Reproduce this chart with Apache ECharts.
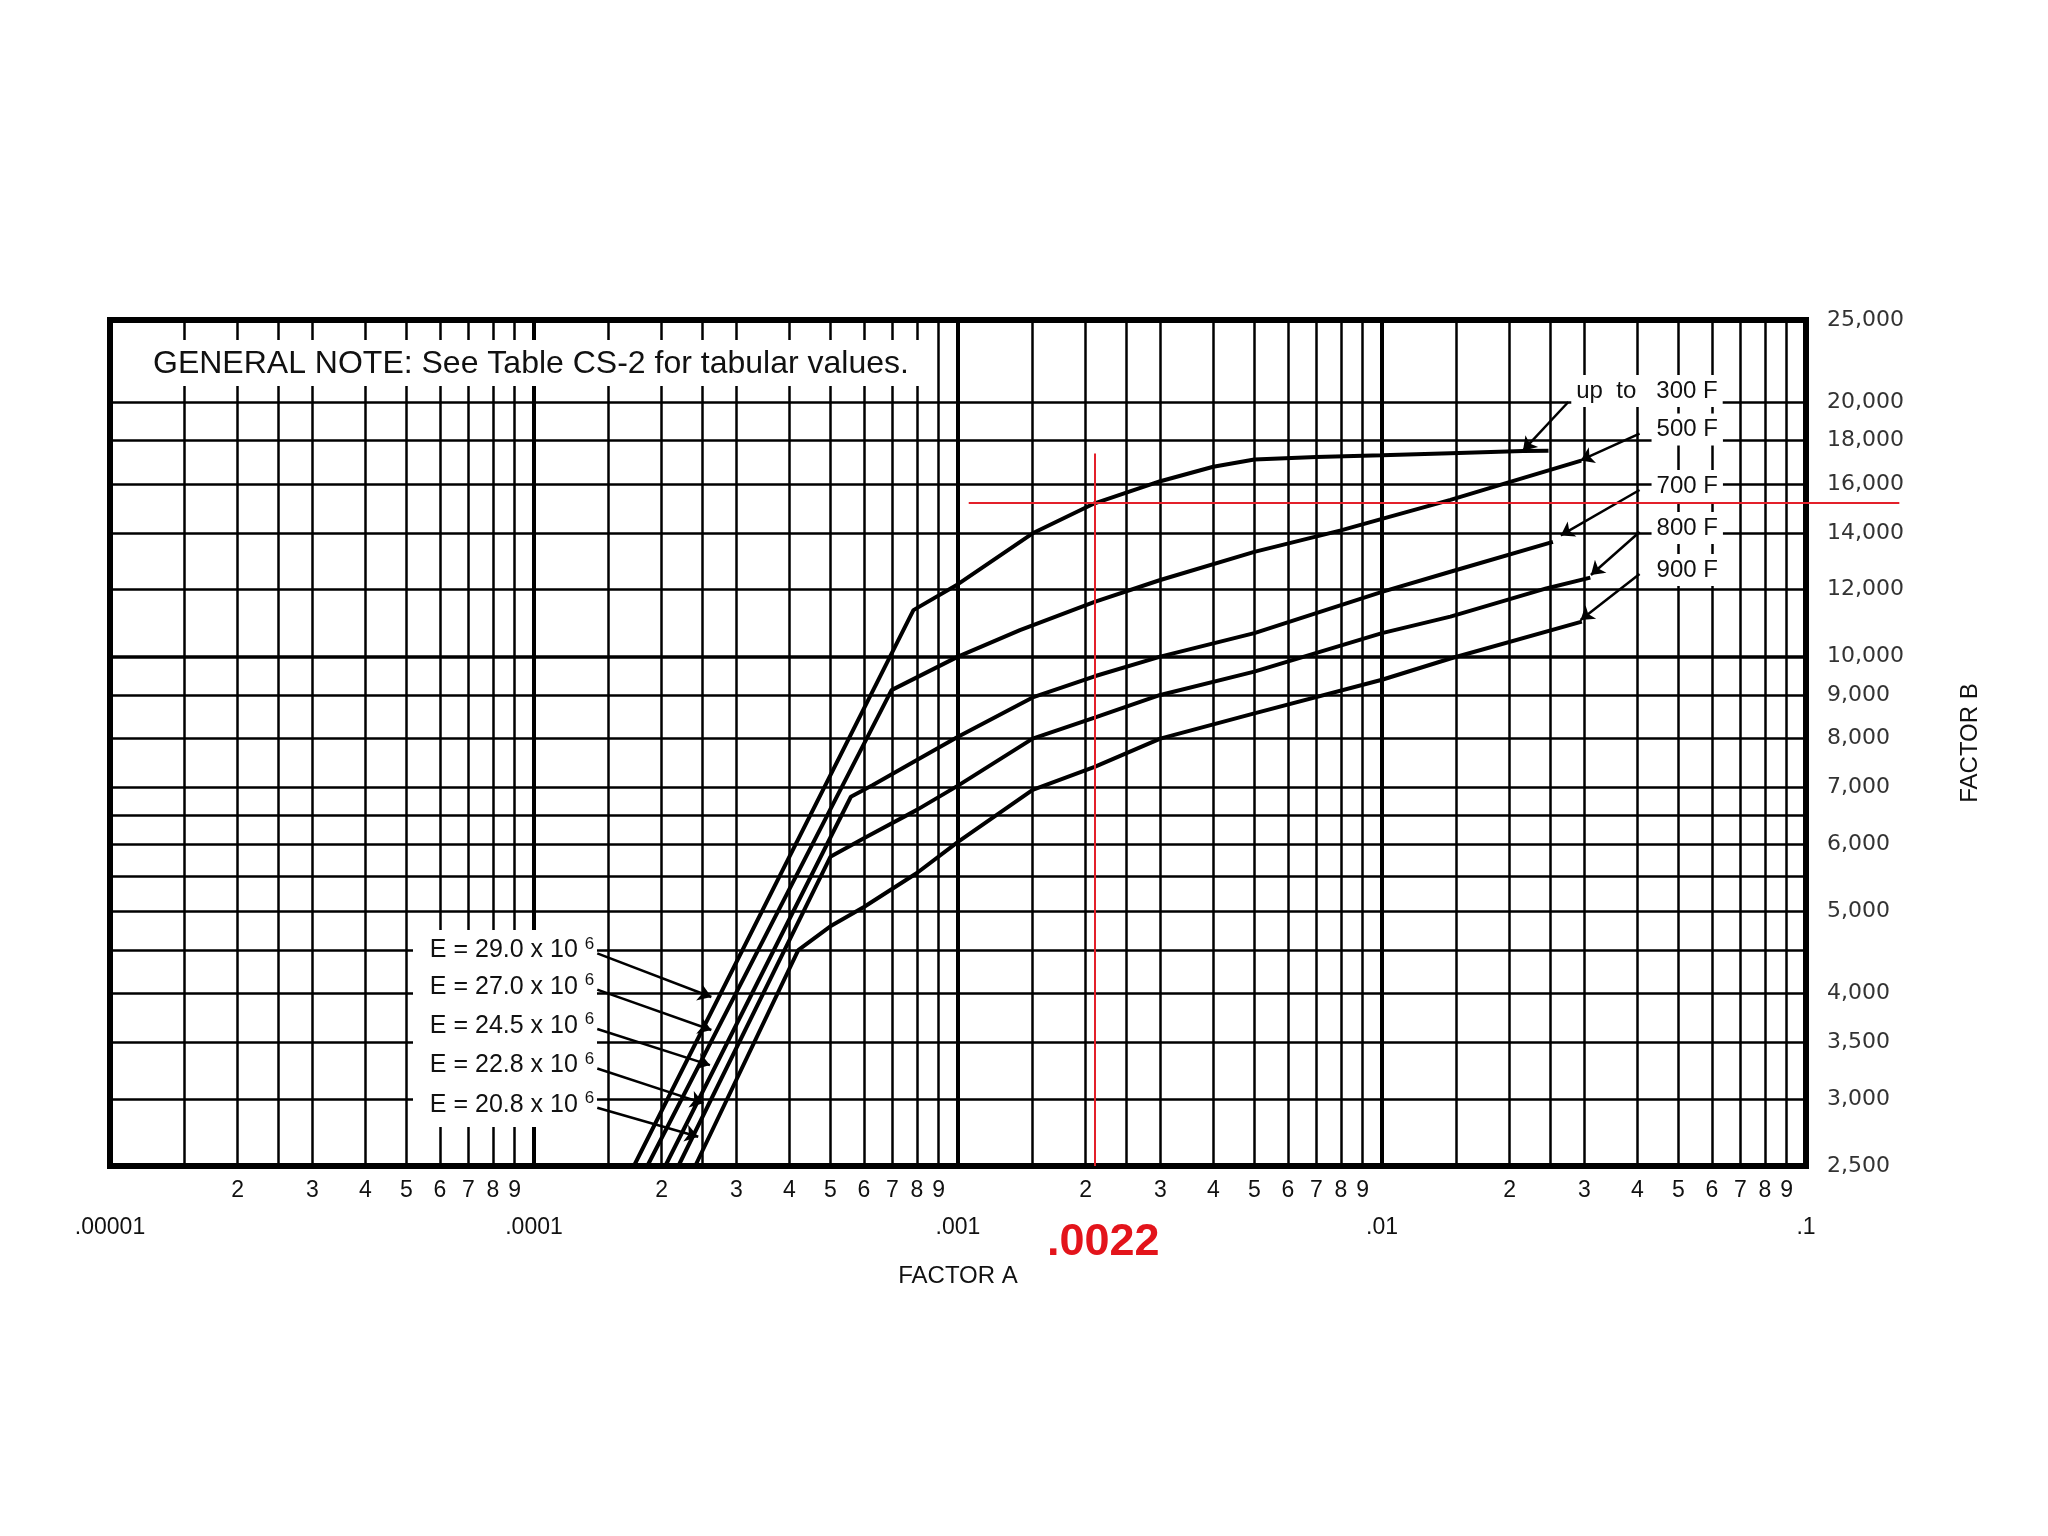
<!DOCTYPE html>
<html>
<head>
<meta charset="utf-8">
<title>Factor A - Factor B</title>
<script src="https://cdn.jsdelivr.net/npm/echarts@6/dist/echarts.min.js"></script>
<style>
  html, body { margin: 0; padding: 0; background: #fff; }
  #main { width: 2048px; height: 1536px; }
</style>
</head>
<body>
<div id="main"></div>
<script>
// axis range
const aMin = 0.00001, aMax = 0.1;
const bMin = 2500, bMax = 25000;

// grid lines and tick labels
const decades = [0.00001, 0.0001, 0.001, 0.01, 0.1];
const decadeLabels = ['.00001', '.0001', '.001', '.01', '.1'];
const gridMantissa = [1.5, 2, 2.5, 3, 4, 5, 6, 7, 8, 9];
const labelMantissa = [2, 3, 4, 5, 6, 7, 8, 9];
const gridB = [3000, 3500, 4000, 4500, 5000, 5500, 6000, 6500, 7000, 8000, 9000, 10000, 12000, 14000, 16000, 18000, 20000];
const labelB = [25000, 20000, 18000, 16000, 14000, 12000, 10000, 9000, 8000, 7000, 6000, 5000, 4000, 3500, 3000, 2500];

// curves, [factor A, factor B]
const temps = ['up  to   300 F', '500 F', '700 F', '800 F', '900 F'];
const moduli = ['29.0', '27.0', '24.5', '22.8', '20.8'];
const curve300 = [[1.72e-4, 2500], [7.85e-4, 11350], [1.0e-3, 12180], [1.5e-3, 13990], [2.1e-3, 15180], [3.0e-3, 16120], [4.0e-3, 16770], [5.0e-3, 17100], [7.0e-3, 17220], [1.0e-2, 17300], [1.45e-2, 17400], [2.15e-2, 17500], [2.47e-2, 17520]];
const curve500 = [[1.85e-4, 2500], [6.97e-4, 9130], [1.0e-3, 10000], [1.4e-3, 10750], [2.1e-3, 11610], [3.0e-3, 12320], [5.0e-3, 13300], [8.0e-3, 14100], [1.0e-2, 14550], [1.45e-2, 15320], [2.08e-2, 16180], [2.95e-2, 17050]];
const curve700 = [[2.04e-4, 2500], [5.59e-4, 6830], [6.3e-4, 7050], [8.0e-4, 7550], [1.0e-3, 8040], [1.5e-3, 8950], [2.1e-3, 9480], [3.0e-3, 10000], [5.0e-3, 10660], [1.0e-2, 11930], [1.45e-2, 12600], [2.53e-2, 13670]];
const curve800 = [[2.19e-4, 2500], [5.0e-4, 5800], [6.0e-4, 6100], [8.0e-4, 6590], [1.0e-3, 7040], [1.5e-3, 8000], [2.1e-3, 8470], [3.0e-3, 9010], [5.0e-3, 9600], [1.0e-2, 10660], [1.45e-2, 11150], [2.44e-2, 12040], [3.1e-2, 12400]];
const curve900 = [[2.40e-4, 2500], [4.2e-4, 4500], [5.0e-4, 4800], [6.0e-4, 5060], [8.0e-4, 5550], [1.0e-3, 6040], [1.5e-3, 6960], [2.1e-3, 7410], [3.0e-3, 8000], [5.0e-3, 8570], [1.0e-2, 9390], [1.45e-2, 9950], [2.96e-2, 11000]];

// label arrows, [start, end]
const tempArrows = [
  [[0.0275, 20000], [0.0215, 17520]],
  [[0.0405, 18350], [0.0294, 17060]],
  [[0.0405, 15740], [0.0264, 13910]],
  [[0.0405, 14040], [0.0311, 12490]],
  [[0.0405, 12520], [0.0294, 11050]]
];
const eArrows = [
  [[1.41e-4, 4460], [2.62e-4, 3960]],
  [[1.41e-4, 4040], [2.62e-4, 3620]],
  [[1.41e-4, 3630], [2.60e-4, 3290]],
  [[1.41e-4, 3260], [2.51e-4, 2965]],
  [[1.41e-4, 2930], [2.44e-4, 2707]]
];

// red reading lines
const readA = 0.0021, readB = 15200, readLabel = '.0022', readLabelA = 0.0022;
const readH = [[1.06e-3, readB], [0.166, readB]];
const readV = [[readA, 17380], [readA, bMin]];

const font = '"Liberation Sans", Arial, sans-serif';
const numFont = '"DejaVu Sans", sans-serif';

// grid lines as line segments
const gridLines = [];
decades.slice(0, -1).forEach(d => {
  if (d > aMin) gridLines.push({ coords: [[d, bMin], [d, bMax]], lineStyle: { width: 4 } });
  gridMantissa.forEach(m => gridLines.push({ coords: [[d * m, bMin], [d * m, bMax]] }));
});
gridB.forEach(b => {
  gridLines.push({ coords: [[aMin, b], [aMax, b]], lineStyle: b === 10000 ? { width: 3.5 } : {} });
});

const curves = [curve300, curve500, curve700, curve800, curve900];

const option = {
  backgroundColor: '#fff',
  animation: false,
  grid: {
    left: 110, right: 242, top: 320, bottom: 370,
    show: true, borderColor: '#000', borderWidth: 6
  },
  xAxis: {
    type: 'log', logBase: 10, min: aMin, max: aMax,
    axisLine: { show: false }, axisTick: { show: false },
    axisLabel: { show: false }, splitLine: { show: false },
    name: 'FACTOR A', nameLocation: 'middle', nameGap: 98,
    nameTextStyle: { fontFamily: font, fontSize: 24, color: '#111' }
  },
  yAxis: {
    type: 'log', logBase: 10, min: bMin, max: bMax, position: 'right',
    axisLine: { show: false }, axisTick: { show: false },
    axisLabel: { show: false }, splitLine: { show: false },
    name: 'FACTOR B', nameLocation: 'middle', nameRotate: 90, nameGap: 152,
    nameTextStyle: { fontFamily: font, fontSize: 24, color: '#111' }
  },
  series: [
    {
      type: 'lines', coordinateSystem: 'cartesian2d', silent: true, z: 1,
      lineStyle: { color: '#000', width: 2.5, opacity: 1 },
      data: gridLines
    },
    ...curves.map(c => ({
      type: 'line', data: c, symbol: 'none', silent: true, z: 5,
      lineStyle: { color: '#000', width: 4 }
    })),
    {
      type: 'lines', coordinateSystem: 'cartesian2d', silent: true, z: 6,
      symbol: ['none', 'arrow'], symbolSize: 13,
      lineStyle: { color: '#000', width: 2.5, opacity: 1 },
      data: tempArrows.concat(eArrows).map(c => ({ coords: c }))
    },
    {
      type: 'lines', coordinateSystem: 'cartesian2d', silent: true, z: 7, clip: false,
      lineStyle: { color: '#e3202a', width: 2, opacity: 1 },
      data: [{ coords: readH }, { coords: readV }]
    }
  ]
};

const chart = echarts.init(document.getElementById('main'));
chart.setOption(option);

const px = (a, b) => chart.convertToPixel({ gridIndex: 0 }, [a, b]);
const plotBottom = px(aMin, bMin)[1];
const plotRight = px(aMax, bMin)[0];

const txt = (text, x, y, style) => ({
  type: 'text', z: 20,
  style: Object.assign({
    text: text, x: x, y: y, fill: '#111',
    fontFamily: font, fontSize: 22,
    align: 'center', verticalAlign: 'middle'
  }, style || {})
});

const graphics = [];

// white boxes for the notes
graphics.push({ type: 'rect', z: 3, shape: { x: 113, y: 340, width: 822, height: 46 }, style: { fill: '#fff' } });
graphics.push({ type: 'rect', z: 3, shape: { x: 413, y: 930, width: 184, height: 197 }, style: { fill: '#fff' } });
graphics.push(txt('GENERAL NOTE: See Table CS-2 for tabular values.', 153, 364, { align: 'left', fontSize: 32 }));

// x tick labels
decades.forEach((d, i) => {
  graphics.push(txt(decadeLabels[i], px(d, bMin)[0], plotBottom + 62, { fontSize: 23 }));
  if (i < decades.length - 1) {
    labelMantissa.forEach(m => {
      graphics.push(txt(String(m), px(d * m, bMin)[0], plotBottom + 25, { fontSize: 23 }));
    });
  }
});

// y tick labels
labelB.forEach(b => {
  graphics.push(txt(b.toLocaleString('en-US'), plotRight + 21, px(aMax, b)[1], {
    align: 'left', fontFamily: numFont, fontSize: 22, fill: '#333'
  }));
});

// temperature labels at the arrow starts
tempArrows.forEach((arr, i) => {
  const p = px(arr[0][0], arr[0][1]);
  const first = i === 0;
  graphics.push(txt(temps[i], p[0] + (first ? 3 : 12), p[1] - (first ? 11 : 4), {
    align: 'left', fontSize: 24, backgroundColor: '#fff', padding: [4, 5]
  }));
});

// modulus labels at the arrow starts
eArrows.forEach((arr, i) => {
  const p = px(arr[0][0], arr[0][1]);
  graphics.push(txt('E = ' + moduli[i] + ' x 10 {s|6}', p[0] - 3, p[1] - 3, {
    align: 'right', fontSize: 25, lineHeight: 30,
    rich: { s: { fontSize: 17, lineHeight: 16, verticalAlign: 'top', fill: '#111', fontFamily: font } }
  }));
});

// red reading value
graphics.push(txt(readLabel, px(readLabelA, bMin)[0], plotBottom + 77, {
  fontSize: 45, fontWeight: 'bold', fill: '#e3141b'
}));

chart.setOption({ graphic: { elements: graphics } });
</script>
</body>
</html>
